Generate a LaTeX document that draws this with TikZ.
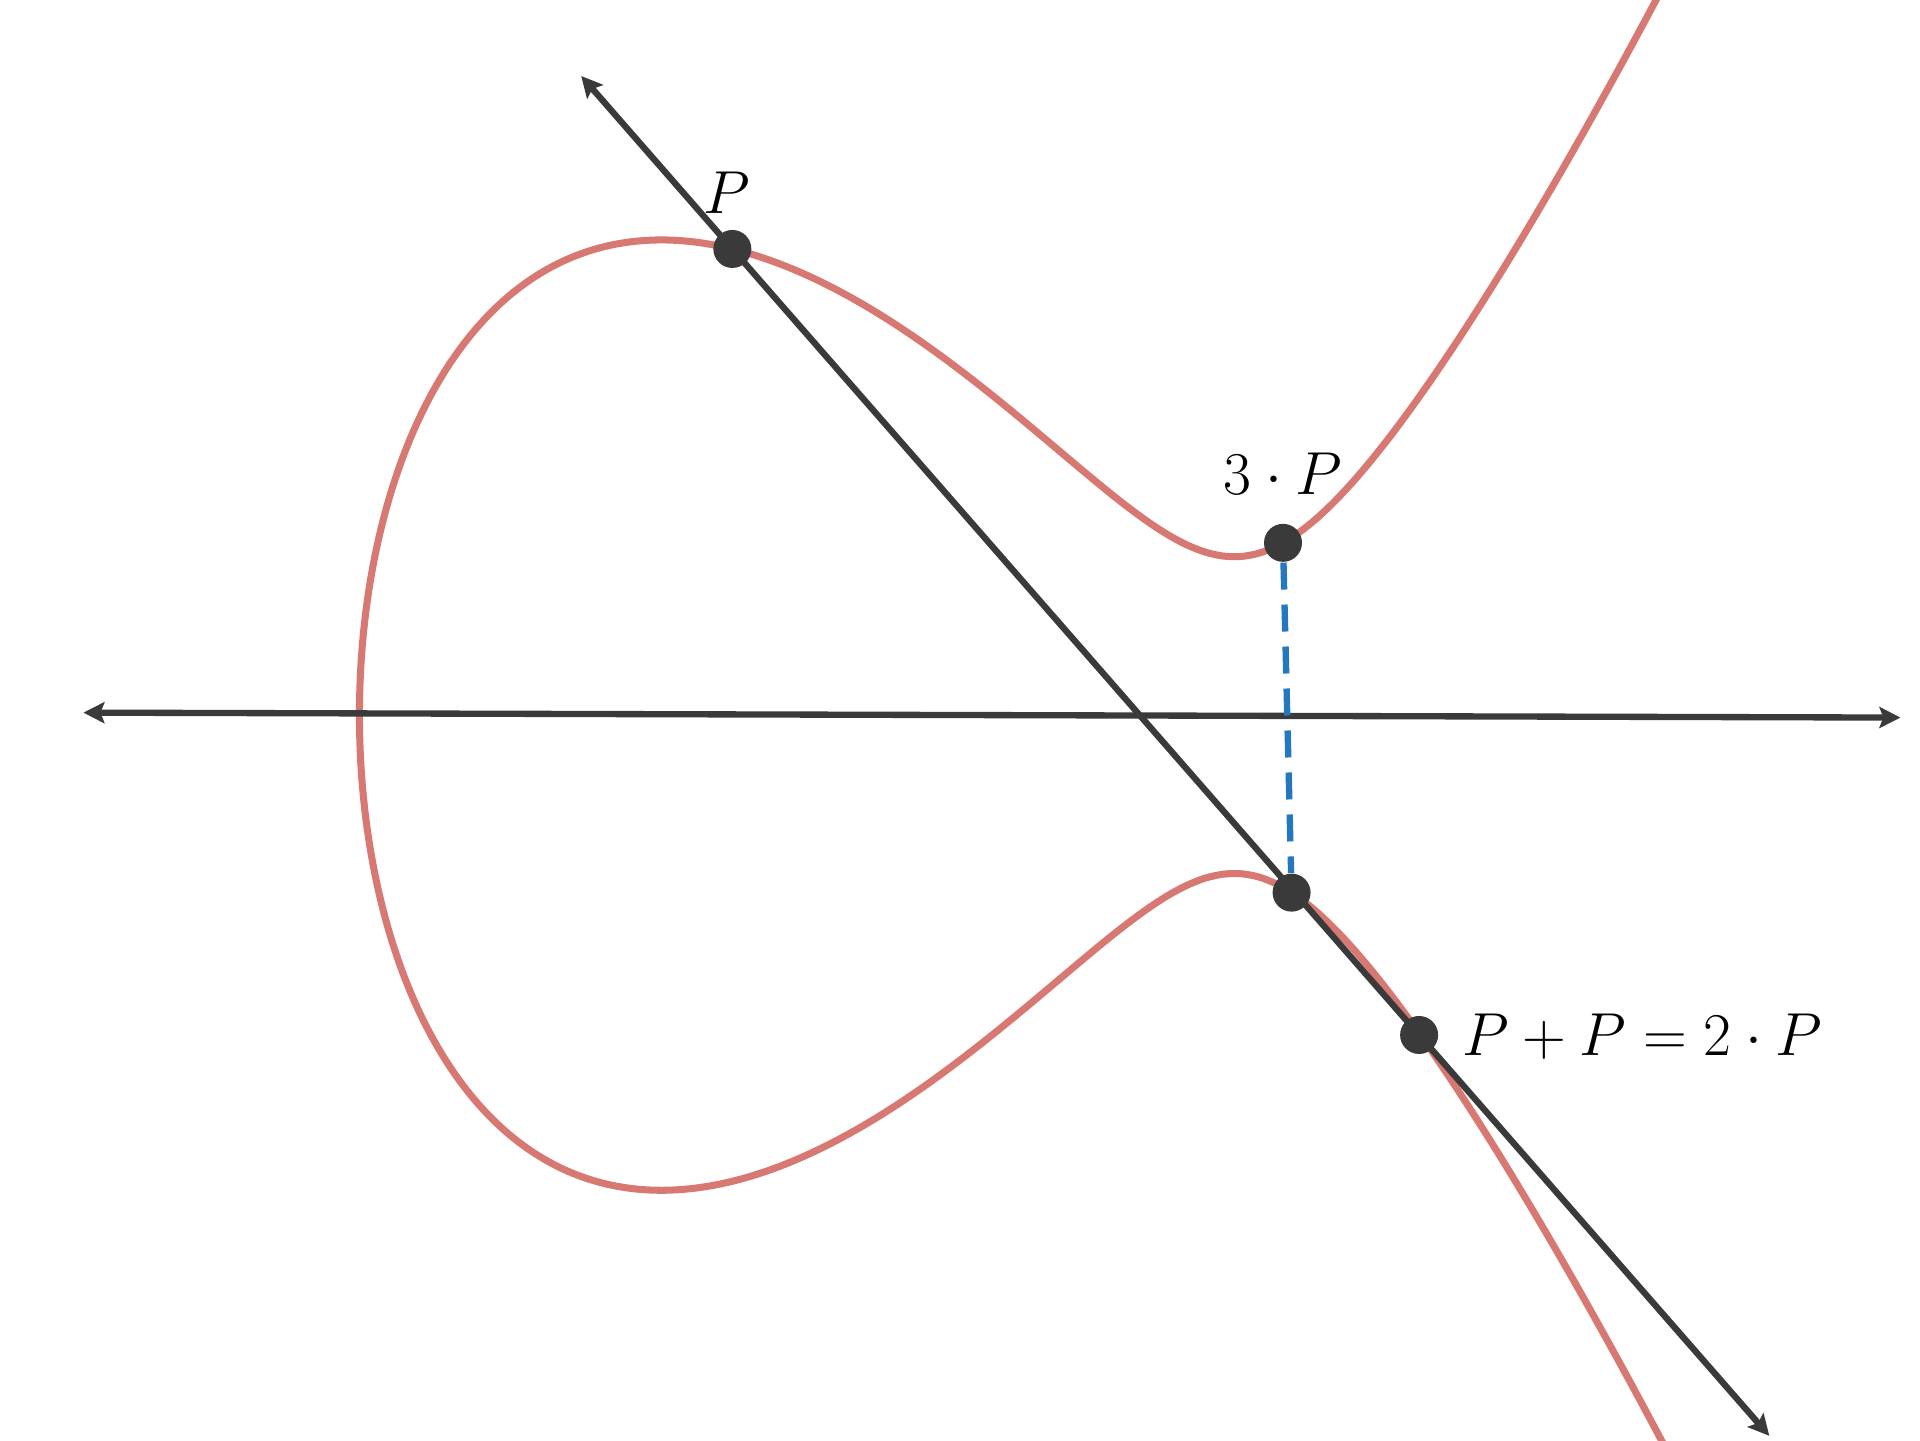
\documentclass[tikz,border=0pt]{standalone}
\usepackage{amssymb,amsmath}
\usepackage{tikz}
\usetikzlibrary{arrows.meta,calc,positioning}
\definecolor{curvered}{RGB}{215,120,114}
\definecolor{darkgray}{RGB}{58,58,58}
\definecolor{dashblue}{RGB}{38,120,190}
\tikzset{
  tip/.style={{Stealth[length=0.21cm,width=0.21cm,inset=0.04cm]}-{Stealth[length=0.21cm,width=0.21cm,inset=0.04cm]}},
  axisline/.style={darkgray,line width=1.8pt,tip},
  curveline/.style={curvered,line width=2pt},
  dashline/.style={dashblue,line width=1.8pt,dash pattern=on 0.27cm off 0.15cm},
  dot/.style={circle,fill=darkgray,inner sep=0pt,minimum size=0.38cm},
  lbl/.style={inner sep=0pt,font=\fontsize{16.6}{20}\selectfont}
}

\begin{document}
\begin{tikzpicture}[x=2.865cm,y=2.24cm]
\useasboundingbox (-9.478cm,-7.249cm) rectangle (9.722cm,7.151cm);
\clip (-9.478cm,-7.249cm) rectangle (9.722cm,7.151cm);

% points on y^2 = x^3 - 3x + 2.5
\coordinate (P) at (-0.752,2.081);
\coordinate (T) at (1.17,0.769);
\coordinate (R) at (1.2,-0.7925);
\coordinate (D) at (1.645,-1.428);
\coordinate (xl) at (-3.017,0.011);
\coordinate (xr) at (3.325,-0.011);
\coordinate (tl) at ($(P)!-0.22!(D)$);
\coordinate (tr) at ($(P)!1.51!(D)$);

\draw[curveline] plot[domain=-2.15:2.15,samples=240,smooth]
  ({-2.0536+\x*\x},{\x*sqrt(\x*\x*\x*\x-6.1608*\x*\x+9.6518)});

\draw[axisline] (xl) -- (xr);
\draw[axisline] (tl) -- (tr);

\foreach \p in {P,T,R,D}
  {
    \node[dot] (dot\p) at (\p) {};
  }
\draw[dashline] (dotT) -- (dotR);

\node[lbl,above=0.155cm of dotP,xshift=-0.06cm] (labP) {$P$};
\node[lbl,above=0.28cm of dotT] (labT) {$3\cdot P$};
\node[lbl,right=0.23cm of dotD,yshift=-0.02cm] (labD) {$P+P=2\cdot P$};
\end{tikzpicture}
\end{document}
